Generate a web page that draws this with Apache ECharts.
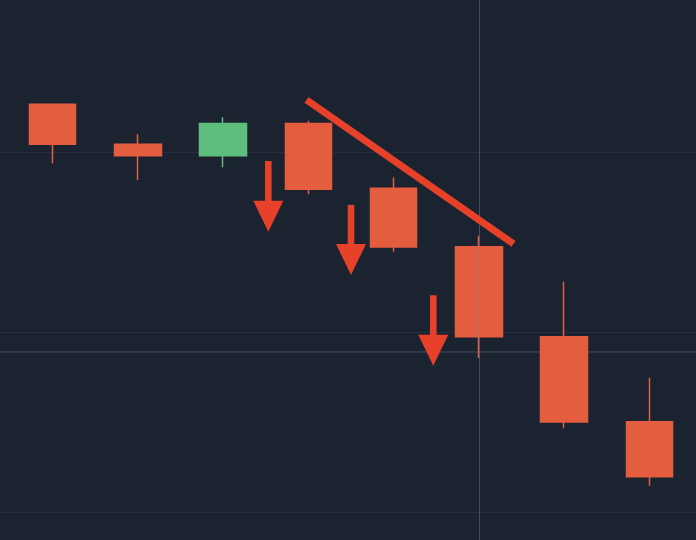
<!DOCTYPE html>
<html>
<head>
<meta charset="utf-8">
<script src="https://cdn.jsdelivr.net/npm/echarts@6/dist/echarts.min.js"></script>
<style>
html,body{margin:0;padding:0;background:#1c2330;}
#c{width:696px;height:540px;}
</style>
</head>
<body>
<div id="c"></div>
<script>
// ---- data ----
const categories = ['1', '2', '3', '4', '5', '6', '7', '8'];
const opens  = [32.65, 30.43, 29.79, 31.59, 27.98, 24.74, 19.74, 15.02];
const closes = [30.43, 29.79, 31.59, 27.93, 24.72, 19.74, 15.00, 11.96];
const lows   = [29.37, 28.44, 29.15, 27.65, 24.46, 18.56, 14.65, 11.46];
const highs  = [32.67, 30.98, 31.93, 31.74, 28.59, 25.35, 22.79, 17.46];

// trend line (x in category-position units, y in price)
const trendX = [3.478, 5.906];
const trendY = [32.89, 24.89];

// down arrows: x position, shaft top price, tip price
const arrowX   = [3.030, 4.000, 4.965];
const arrowTop = [29.50, 27.06, 22.04];
const arrowTip = [25.57, 23.17, 18.13];

// crosshair
const crossCategory = '6';
const crossValue = 18.89;

// y axis ticks
const yMin = 0, yMax = 40, yStep = 10;

// ---- build ----
const candleData = categories.map((c, i) => [opens[i], closes[i], lows[i], highs[i]]);
const trendData = trendX.map((x, i) => [x, trendY[i]]);
const arrowData = arrowX.map((x, i) => [x, arrowTop[i], arrowTip[i]]);

const RED = '#e35d3e', GREEN = '#5dbe7d', MARK = '#e8412a';
const CROSS = 'rgba(120,135,160,0.42)';

const chart = echarts.init(document.getElementById('c'), null, {renderer: 'canvas'});
chart.setOption({
  animation: false,
  backgroundColor: '#1c2330',
  grid: [
    {left: 10, right: 4, top: -28, bottom: -152, outerBoundsMode: 'none', containLabel: false},
    {left: 0, right: 0, top: -28, bottom: -152, outerBoundsMode: 'none', containLabel: false}
  ],
  xAxis: [
    {type: 'category', data: categories, gridIndex: 0, boundaryGap: true,
     axisLine: {show: false}, axisTick: {show: false}, axisLabel: {show: false}, splitLine: {show: false}},
    {type: 'value', gridIndex: 0, min: 0, max: categories.length,
     axisLine: {show: false}, axisTick: {show: false}, axisLabel: {show: false}, splitLine: {show: false}},
    {type: 'value', gridIndex: 1, min: 0, max: 1,
     axisLine: {show: false}, axisTick: {show: false}, axisLabel: {show: false}, splitLine: {show: false}}
  ],
  yAxis: [
    {type: 'value', gridIndex: 0, min: yMin, max: yMax, interval: yStep,
     axisLine: {show: false}, axisTick: {show: false}, axisLabel: {show: false}, splitLine: {show: false}},
    {type: 'value', gridIndex: 1, min: yMin, max: yMax, interval: yStep,
     axisLine: {show: false}, axisTick: {show: false}, axisLabel: {show: false},
     splitLine: {show: true, lineStyle: {color: '#262e3c', width: 1}}}
  ],
  series: [
    {
      type: 'line', xAxisIndex: 2, yAxisIndex: 1, z: 1,
      data: [[0, crossValue], [1, crossValue]],
      symbol: 'none', silent: true,
      lineStyle: {color: CROSS, width: 1}
    },
    {
      type: 'candlestick', xAxisIndex: 0, yAxisIndex: 0, z: 3,
      data: candleData,
      barWidth: 47,
      itemStyle: {color: GREEN, color0: RED, borderColor: GREEN, borderColor0: RED, borderWidth: 1.5},
      markLine: {
        silent: true, symbol: 'none', z: 10,
        label: {show: false},
        lineStyle: {color: CROSS, width: 1, type: 'solid'},
        data: [{xAxis: crossCategory}]
      }
    },
    {
      type: 'line', xAxisIndex: 1, yAxisIndex: 0, z: 20,
      data: trendData, symbol: 'none', silent: true,
      lineStyle: {color: MARK, width: 7, cap: 'butt'}
    },
    {
      type: 'custom', xAxisIndex: 1, yAxisIndex: 0, z: 20,
      data: arrowData,
      encode: {x: 0, y: [1, 2]},
      silent: true,
      renderItem: function (params, api) {
        const top = api.coord([api.value(0), api.value(1)]);
        const tip = api.coord([api.value(0), api.value(2)]);
        const headLen = 31, headHalf = 15, shaft = 3.3;
        return {
          type: 'group',
          children: [
            {type: 'rect', shape: {x: top[0] - shaft, y: top[1], width: shaft * 2, height: tip[1] - headLen - top[1] + 1},
             style: {fill: MARK}},
            {type: 'polygon', shape: {points: [[tip[0] - headHalf, tip[1] - headLen], [tip[0] + headHalf, tip[1] - headLen], [tip[0], tip[1]]]},
             style: {fill: MARK}}
          ]
        };
      }
    }
  ]
});
</script>
</body>
</html>
